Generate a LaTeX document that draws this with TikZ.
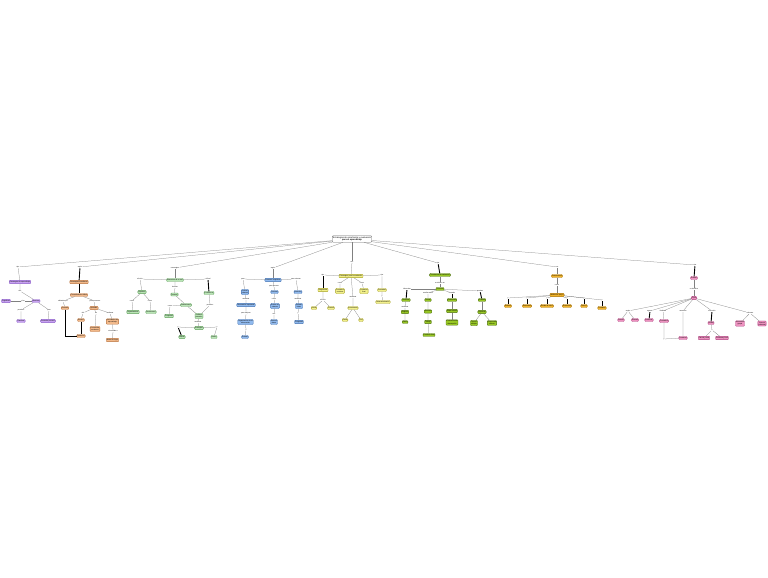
\documentclass[tikz,border=0pt]{standalone}
\usepackage{fontspec}
\setmainfont{Liberation Sans}
\definecolor{puF}{HTML}{C9A2F2}\definecolor{puD}{HTML}{8A5CC8}
\definecolor{orF}{HTML}{F2B98A}\definecolor{orD}{HTML}{B8703A}
\definecolor{grF}{HTML}{B9E6B5}\definecolor{grD}{HTML}{5E9E5A}
\definecolor{blF}{HTML}{8FB9EE}\definecolor{blD}{HTML}{3F6FB0}
\definecolor{yeF}{HTML}{F2F08A}\definecolor{yeD}{HTML}{A6A020}
\definecolor{olF}{HTML}{98C824}\definecolor{olD}{HTML}{4E7010}
\definecolor{goF}{HTML}{F2B42A}\definecolor{goD}{HTML}{A87000}
\definecolor{piF}{HTML}{EE92C0}\definecolor{piD}{HTML}{B04080}
\tikzset{
 box/.style={draw, rounded corners=0.8pt, line width=0.35pt, inner xsep=0.6pt, inner ysep=0.85pt, font=\fontsize{1.7}{2.1}\selectfont, align=center},
 pu/.style={box, fill=puF, draw=puD}, orb/.style={box, fill=orF, draw=orD},
 grb/.style={box, fill=grF, draw=grD}, blb/.style={box, fill=blF, draw=blD},
 yeb/.style={box, fill=yeF, draw=yeD}, olb/.style={box, fill=olF, draw=olD},
 gob/.style={box, fill=goF, draw=goD}, pib/.style={box, fill=piF, draw=piD},
 lbl/.style={font=\fontsize{1.65}{1.9}\selectfont, inner sep=0.3pt, fill=white, text=black},
 ln/.style={draw=black!50, line width=0.25pt},
 tk/.style={draw=black, line width=0.9pt},
}
\begin{document}
\begin{tikzpicture}[x=1pt,y=-1pt]
\useasboundingbox[fill=white] (0,0) rectangle (768,578);
% root
\node[box, fill=white, draw=black!60, font=\fontsize{2.2}{2.6}\selectfont] (root) at (352,239) {Estrategias de enseñanza y evaluación\\ \textbf{para el aprendizaje}};
% ---------- top labels
\node[lbl] (lP) at (18,267) {tipo};
\node[lbl] (lO) at (80,267) {según};
\node[lbl] (lG) at (175,268) {estrategias};
\node[lbl] (lB) at (273,268) {según};
\node[lbl] (lY) at (352,262) {son};
\node[lbl] (lV) at (438,263) {tipo};
\node[lbl] (lA) at (557,267) {son};
\node[lbl] (lK) at (695,265) {tipo};
\foreach \t in {lP,lO,lG,lB,lV,lA,lK} \draw[ln] (root) -- (\t);
\draw[ln] (root) -- (lY);
% ---------- purple
\node[pu] (bP1) at (20,282) {Estrategias de aprendizaje};
\node[lbl] (lP1) at (20,291) {son};
\node[pu] (bP2) at (6,301) {Cognitivas};
\node[lbl] (lP2) at (23,301) {y las};
\node[pu] (bP3) at (36,301) {Afectivas};
\node[lbl] (lP3) at (21,310) {permiten};
\node[lbl] (lP4) at (49,310) {para};
\node[pu] (bP4) at (21,321) {Planificar};
\node[pu] (bP5) at (48,321) {Controlar proceso};
\draw[ln] (lP)--(bP1); \draw[ln] (bP1)--(lP1)--(bP3);
\draw[ln] (bP2)--(lP2)--(bP3);
\draw[ln] (bP3)--(lP3)--(bP4); \draw[ln] (bP3)--(lP4)--(bP5);
% ---------- orange
\node[orb] (bO1) at (79,282) {Estrategias enseñanza};
\node[orb] (bO2) at (79,295) {Procedimientos útiles};
\node[lbl] (lO1) at (63,301) {utilizados por};
\node[lbl] (lO2) at (95,301) {para promover};
\node[orb] (bO3) at (65,308) {Docente};
\node[orb] (bO4) at (94,308) {Aprender};
\node[lbl] (lO3) at (83,313) {del};
\node[lbl] (lO4) at (96,313) {de};
\node[lbl] (lO5) at (110,313) {mediante};
\node[orb] (bO5) at (81,320) {Alumno};
\node[orb] (bO6) at (95,329) {Contenidos\\ escolares};
\node[orb] (bO7) at (112.5,321.5) {Actividades de\\ aprendizaje};
\node[orb] (bO8) at (81,336) {Reflexión};
\node[lbl] (lO6) at (113,331) {orientadas a};
\node[orb] (bO9) at (112.5,340) {Metas de logro};
\draw[tk] (lO)--(bO1); \draw[tk] (bO1)--(bO2);
\draw[ln] (bO2)--(lO1)--(bO3); \draw[ln] (bO2)--(lO2)--(bO4);
\draw[ln] (bO4)--(lO3)--(bO5); \draw[ln] (bO4)--(lO4)--(bO6); \draw[ln] (bO4)--(lO5)--(bO7);
\draw[tk] (bO5)--(bO8); \draw[tk] (bO3) |- (bO8);
\draw[ln] (bO7)--(lO6)--(bO9);
% ---------- green
\node[grb] (bG1) at (175,280) {Momentos de su uso};
\node[lbl] (lG1) at (140,279) {al inicio};
\node[lbl] (lG2) at (208,279) {al final};
\node[lbl] (lG3) at (175,287) {durante};
\node[grb] (bG2) at (142,292) {Objetivos};
\node[grb] (bG3) at (174.5,294.5) {Durante};
\node[grb] (bG4) at (209,293) {Posteriores};
\node[lbl] (lG4) at (132,301) {como};
\node[lbl] (lG5) at (150,301) {como};
\node[grb] (bG5) at (133,312) {Organizadores};
\node[grb] (bG6) at (151,312) {Resúmenes};
\node[grb] (bG7) at (186,305) {Ilustraciones};
\node[lbl] (lG7) at (170,306) {como};
\node[grb] (bG8) at (169,316) {Preguntas};
\node[lbl] (lG8) at (210,305) {permiten};
\node[grb] (bG9) at (199,316) {Señales\\ textuales};
\node[lbl] (lG9) at (198,322) {mediante};
\node[grb] (bG10) at (199,328) {Analogías};
\node[lbl] (lG10) at (178,327) {y};
\node[lbl] (lG11) at (217,327) {y};
\node[grb] (bG11) at (182,337) {Mapas};
\node[grb] (bG12) at (214,337) {Redes};
\draw[ln] (lG)--(bG1);
\draw[ln] (bG1)--(lG1); \draw[ln] (lG1)--(bG2);
\draw[ln] (bG1)--(lG2); \draw[tk] (lG2)--(bG4);
\draw[ln] (bG1)--(lG3)--(bG3);
\draw[ln] (bG2)--(lG4)--(bG5); \draw[ln] (bG2)--(lG5)--(bG6);
\draw[ln] (bG3)--(bG7); \draw[ln] (bG7)--(lG7)--(bG8);
\draw[ln] (bG4)--(lG8)--(bG9); \draw[ln] (bG7)--(bG9);
\draw[ln] (bG9)--(lG9)--(bG10);
\draw[ln] (bG10)--(lG10); \draw[tk] (lG10)--(bG11);
\draw[ln] (bG10)--(lG11); \draw[ln] (lG11)--(bG12);
% ---------- blue
\node[blb] (bB1) at (273,280) {Procesos cognitivos};
\node[lbl] (lB1) at (243,279) {para};
\node[lbl] (lB2) at (274,286) {para generar};
\node[lbl] (lB3) at (296,279) {para orientar};
\node[blb] (bB2) at (245,292) {Activar\\ saberes};
\node[blb] (bB3) at (274.5,292) {Orientar};
\node[blb] (bB4) at (298,292) {Atención};
\node[lbl] (lB4) at (246,299) {mediante};
\node[blb] (bB5) at (246,305) {Información importante};
\node[lbl] (lB5) at (246,313) {para mejorar};
\node[blb] (bB6) at (245.5,322) {Organización de la\\ información};
\node[lbl] (lB6) at (246,330) {y};
\node[blb] (bB7) at (245,337) {Enlazar};
\node[lbl] (lB7) at (274,299) {como};
\node[blb] (bB8) at (275,306) {Enlace de\\ saberes};
\node[lbl] (lB8) at (274,314) {con};
\node[blb] (bB9) at (274,322) {Nuevos\\ datos};
\node[lbl] (lB9) at (298,299) {mediante};
\node[blb] (bB10) at (299,306) {Señalar\\ ideas};
\node[lbl] (lB10) at (298,313) {y};
\node[blb] (bB11) at (299,322) {Preguntas};
\draw[ln] (lB)--(bB1);
\draw[ln] (bB1)--(lB1)--(bB2); \draw[ln] (bB1)--(lB2)--(bB3); \draw[ln] (bB1)--(lB3)--(bB4);
\draw[ln] (bB2)--(lB4)--(bB5)--(lB5)--(bB6)--(lB6)--(bB7);
\draw[ln] (bB3)--(lB7)--(bB8)--(lB8)--(bB9);
\draw[ln] (bB4)--(lB9)--(bB10)--(lB10)--(bB11);
% ---------- yellow
\node[yeb] (bY1) at (351,276) {Estrategias para la evaluación};
\node[lbl] (lY1) at (323,275) {tipo};
\node[lbl] (lY2) at (340,283) {como};
\node[lbl] (lY3) at (362,283) {como};
\node[lbl] (lY4) at (382,275) {tipo};
\node[lbl] (lY5) at (353,297) {mediante};
\node[yeb] (bY2) at (323,290) {Diagnóstica};
\node[yeb] (bY3) at (340,291) {Formativa\\ continua};
\node[yeb] (bY4) at (364,291) {Sumativa\\ final};
\node[yeb] (bY5) at (382,290) {Coevaluar};
\node[yeb] (bY6) at (353,308) {Instrumento};
\node[lbl] (lY6) at (323,300) {al inicio};
\node[yeb] (bY7) at (314,308) {Inicial};
\node[yeb] (bY8) at (331,308) {Puntual};
\node[yeb] (bY9) at (345,320) {Pauta};
\node[yeb] (bY10) at (361,320) {Test};
\node[lbl] (lY7) at (382,296) {y};
\node[yeb] (bY11) at (383,302) {Heteroevaluación};
\draw[ln] (lY)--(bY1);
\draw[ln] (bY1)--(lY1); \draw[tk] (lY1)--(bY2);
\draw[ln] (bY1)--(lY2)--(bY3); \draw[ln] (bY1)--(lY3)--(bY4);
\draw[ln] (bY1)--(lY4)--(bY5); \draw[ln] (bY1)--(lY5)--(bY6);
\draw[ln] (bY2)--(lY6)--(bY7); \draw[ln] (lY6)--(bY8);
\draw[ln] (bY6)--(bY9); \draw[ln] (bY6)--(bY10);
\draw[ln] (bY5)--(lY7)--(bY11);
% ---------- olive
\node[olb] (bV1) at (440,275) {Técnicas de la evaluación};
\node[lbl] (lV1) at (440,283) {se dividen en};
\node[olb] (bV2) at (440,289) {Técnicas};
\node[lbl] (lV2) at (407,289) {informales};
\node[lbl] (lV3) at (428,293) {semiformales};
\node[lbl] (lV4) at (452,293) {formales};
\node[lbl] (lV5) at (480,291) {pruebas};
\node[olb] (bV3) at (406,300) {Observar};
\node[lbl] (lV6) at (405,307) {mediante};
\node[olb] (bV4) at (405,312) {Registro};
\node[olb] (bV5) at (405,322) {Diario};
\node[olb] (bV6) at (428,300) {Tareas};
\node[olb] (bV7) at (428,311.5) {Ejercicio};
\node[olb] (bV8) at (428,322) {Trabajo};
\node[olb] (bV9) at (429,335) {Portafolio final};
\node[olb] (bV10) at (452,300) {Exámenes};
\node[olb] (bV11) at (452,311) {Mapa mental};
\node[olb] (bV12) at (452,322.5) {Evaluación de\\ desempeño};
\node[olb] (bV13) at (482,300) {Pruebas};
\node[olb] (bV14) at (482,312) {Objetivas};
\node[olb] (bV15) at (474,323) {Opción\\ múltiple};
\node[olb] (bV16) at (492,323) {Respuesta\\ abierta};
\draw[tk] (lV)--(bV1); \draw[ln] (bV1)--(lV1)--(bV2);
\draw[ln] (bV2)--(lV2); \draw[tk] (lV2)--(bV3);
\draw[ln] (bV3)--(lV6)--(bV4)--(bV5);
\draw[ln] (bV2)--(lV3)--(bV6)--(bV7)--(bV8)--(bV9);
\draw[ln] (bV2)--(lV4); \draw[tk] (lV4)--(bV10); \draw[ln] (bV10)--(bV11)--(bV12);
\draw[ln] (bV2)--(lV5); \draw[tk] (lV5)--(bV13); \draw[ln] (bV13)--(bV14); \draw[ln] (bV14)--(bV15); \draw[ln] (bV14)--(bV16);
% ---------- gold
\node[gob] (bA1) at (557,276) {Instrumentos};
\node[lbl] (lA1) at (557,285) {como};
\node[gob] (bA2) at (557,295) {Medios de apoyo};
\foreach \i/\x/\y/\t/\u in {3/508/306/Rúbrica/y,4/527/306/Encuestas/y,5/547/306/Escala de valor/y,6/567/306/Entrevista/y,7/584/306/Diarios/y,8/602/308/Portafolio/y}{
 \node[lbl] (lA\i) at (\x,\y-8) {\u};
 \node[gob] (bA\i) at (\x,\y) {\t};
 \draw[ln] (bA2)--(lA\i); \draw[tk] (lA\i)--(bA\i);
}
\draw[ln] (lA)--(bA1)--(lA1)--(bA2);
% ---------- pink
\node[pib] (bK1) at (694,278) {Evaluar};
\node[lbl] (lK1) at (694,289) {se clasifica};
\node[pib] (bK2) at (694,298) {Tipos};
\node[lbl] (lK2) at (628,311) {según};
\node[lbl] (lK3) at (650,311) {agente};
\node[lbl] (lK4) at (663,311) {finalidad};
\node[lbl] (lK6) at (683,311) {momento};
\node[lbl] (lK7) at (712,311) {extensión};
\node[lbl] (lK9) at (750,313) {referente};
\node[pib] (bK3) at (621,320) {Interna};
\node[pib] (bK4) at (635,320) {Externa};
\node[pib] (bK5) at (649,320) {Autoeval.};
\node[pib] (bK6) at (664,321) {Formativa};
\node[lbl] (lK5) at (664,339) {y};
\node[pib] (bK7) at (683,338) {Sumativa};
\node[pib] (bK8) at (711,323) {Global};
\node[lbl] (lK8) at (712,330) {o};
\node[pib] (bK9) at (704,338) {Parcial y total};
\node[pib] (bK10) at (722,338) {Continua y final};
\node[pib] (bK11) at (740,323.5) {Normativa\\ grupal};
\node[pib] (bK12) at (762,323.5) {Criterial\\ individual};
\draw[tk] (lK) -- (bK1); \draw[ln] (bK1)--(lK1)--(bK2);
\draw[ln] (bK2)--(lK2)--(bK3); \draw[ln] (lK2)--(bK4);
\draw[ln] (bK2)--(lK3); \draw[tk] (lK3)--(bK5);
\draw[ln] (bK2)--(lK4)--(bK6)--(lK5)--(bK7);
\draw[ln] (bK2)--(lK6)--(bK7);
\draw[ln] (bK2)--(lK7); \draw[tk] (lK7)--(bK8); \draw[ln] (bK8)--(lK8)--(bK9); \draw[ln] (lK8)--(bK10);
\draw[ln] (bK2)--(lK9)--(bK11); \draw[ln] (lK9)--(bK12);
\end{tikzpicture}
\end{document}
